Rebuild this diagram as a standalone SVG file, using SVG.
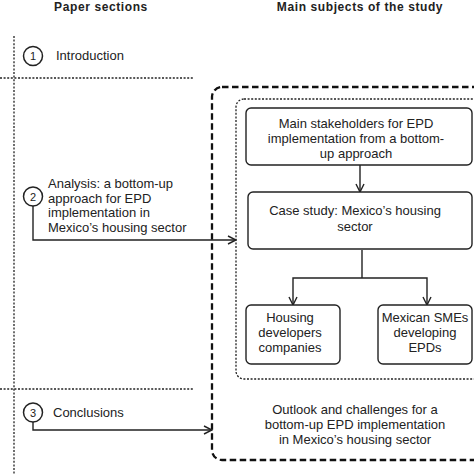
<svg xmlns="http://www.w3.org/2000/svg" width="474" height="474" viewBox="0 0 474 474">
<style>
text{font-family:"Liberation Sans",Arial,sans-serif;font-size:13px;fill:#222}
.t{font-weight:bold;font-size:12px;letter-spacing:0.6px;text-anchor:middle}
.c{text-anchor:middle}
.n{font-size:11px;text-anchor:middle}
.dot{fill:none;stroke:#222;stroke-width:1.3;stroke-dasharray:2 1.6}
.dash{fill:none;stroke:#111;stroke-width:2.3;stroke-dasharray:6.5 3.5}
.box{fill:#fff;stroke:#222;stroke-width:1.4}
.cir{fill:#fff;stroke:#222;stroke-width:1.5}
.ln{fill:none;stroke:#222;stroke-width:1.4}
</style>
<defs>
<marker id="ar" markerWidth="10" markerHeight="10" refX="9" refY="5" orient="auto" markerUnits="userSpaceOnUse">
<path d="M1 1 L9 5 L1 9" fill="none" stroke="#222" stroke-width="1.4"/>
</marker>
</defs>
<rect width="474" height="474" fill="#fff"/>
<g id="titles">
<text class="t" x="101" y="11">Paper sections</text>
<text class="t" x="360" y="11">Main subjects of the study</text>
</g>
<g id="guides">
<line class="dot" x1="14" y1="36" x2="14" y2="474"/>
<line class="dot" x1="0" y1="78" x2="193" y2="78"/>
<line class="dot" x1="0" y1="389" x2="193" y2="389"/>
</g>
<g id="outer-frame">
<rect class="dash" x="212" y="87" width="290" height="373" rx="10"/>
<text class="c" x="355" y="414">Outlook and challenges for a</text>
<text class="c" x="355" y="429">bottom-up EPD implementation</text>
<text class="c" x="355" y="444">in Mexico’s housing sector</text>
</g>
<g id="inner-frame">
<rect class="dot" x="236" y="99" width="270" height="280" rx="8"/>
</g>
<g id="section1">
<circle class="cir" cx="33" cy="56" r="9.5"/>
<text class="n" x="33" y="60">1</text>
<text x="56" y="60">Introduction</text>
</g>
<g id="section2">
<circle class="cir" cx="33" cy="196.5" r="9.5"/>
<text class="n" x="33" y="200.5">2</text>
<text x="48" y="188">Analysis: a bottom-up</text>
<text x="48" y="202.5">approach for EPD</text>
<text x="48" y="217">implementation in</text>
<text x="48" y="231.5">Mexico’s housing sector</text>
</g>
<g id="section3">
<circle class="cir" cx="33" cy="412.5" r="9.5"/>
<text class="n" x="33" y="416.5">3</text>
<text x="53" y="417">Conclusions</text>
</g>
<g id="connectors">
<path class="ln" d="M33 206 V240 H236" marker-end="url(#ar)"/>
<path class="ln" d="M33 422 V430 H212" marker-end="url(#ar)"/>
<path class="ln" d="M360 165 V192" marker-end="url(#ar)"/>
<path class="ln" d="M362 250 V278"/>
<path class="ln" d="M362 278 H293 V305" marker-end="url(#ar)"/>
<path class="ln" d="M362 278 H427 V305" marker-end="url(#ar)"/>
</g>
<g id="stakeholders">
<rect class="box" x="246" y="108" width="226" height="57" rx="5"/>
<text class="c" x="356" y="128">Main stakeholders for EPD</text>
<text class="c" x="356" y="143">implementation from a bottom-</text>
<text class="c" x="356" y="158">up approach</text>
</g>
<g id="case-study">
<rect class="box" x="248" y="192" width="224" height="57" rx="5"/>
<text class="c" x="355" y="215">Case study: Mexico’s housing</text>
<text class="c" x="355" y="231">sector</text>
</g>
<g id="housing-developers">
<rect class="box" x="246" y="305" width="94" height="59" rx="5"/>
<text class="c" x="290" y="322">Housing</text>
<text class="c" x="290" y="337">developers</text>
<text class="c" x="290" y="352">companies</text>
</g>
<g id="mexican-smes">
<rect class="box" x="378" y="305" width="94" height="59" rx="5"/>
<text class="c" x="425" y="322">Mexican SMEs</text>
<text class="c" x="425" y="337">developing</text>
<text class="c" x="425" y="352">EPDs</text>
</g>
</svg>
